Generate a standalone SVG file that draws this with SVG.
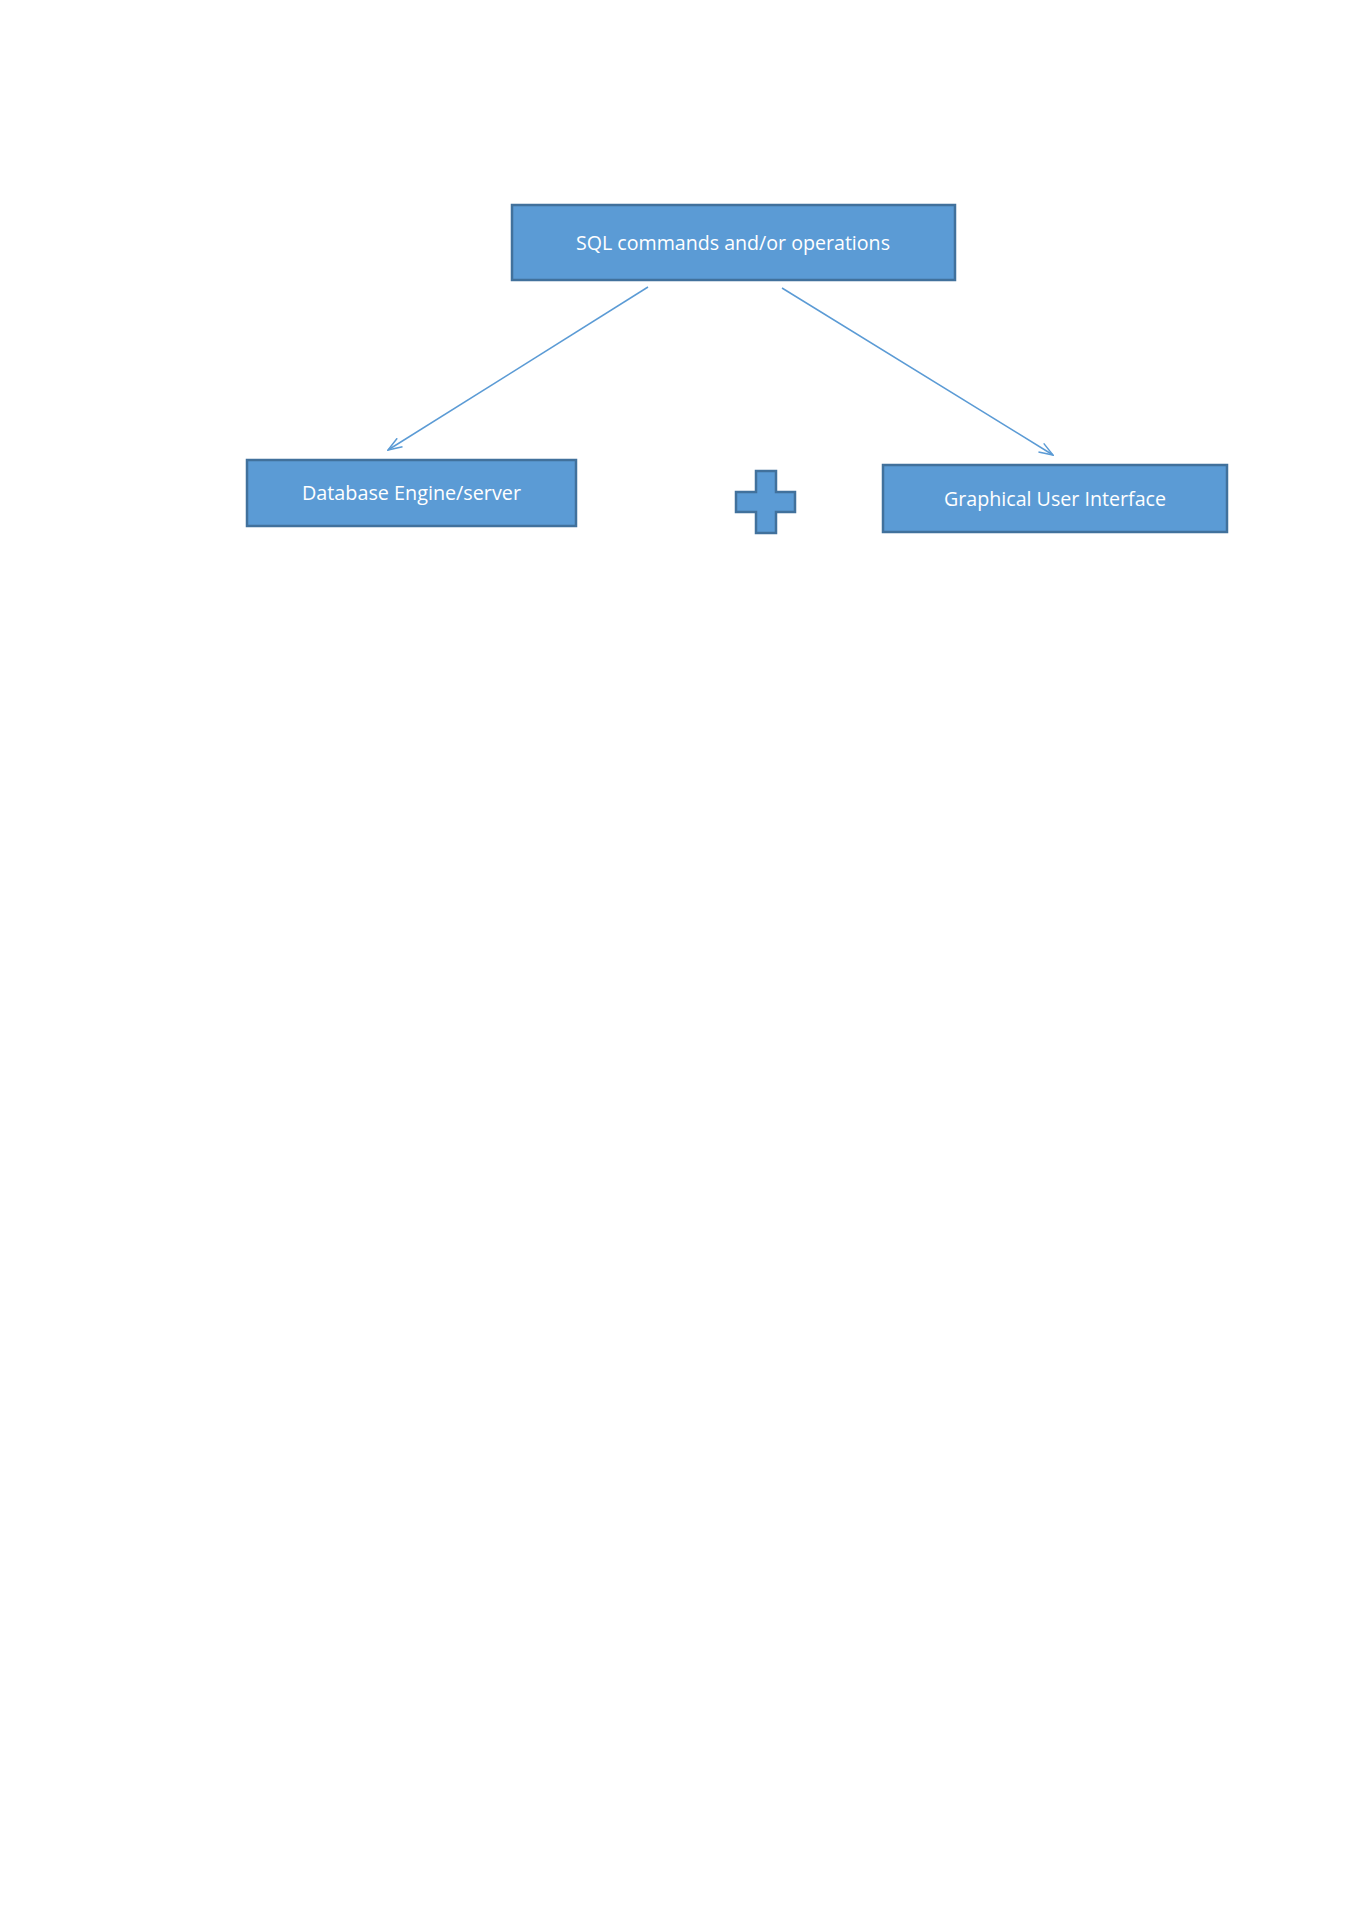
<svg xmlns="http://www.w3.org/2000/svg" width="1358" height="1920" viewBox="0 0 1358 1920">
<defs>
<style>
.box{fill:#5B9BD5;stroke:#41719C;stroke-width:2.5}
.lbl{font-family:"Open Sans","Noto Sans","Liberation Sans",sans-serif;font-size:20px;fill:#FFFFFF;text-anchor:middle}
.conn{stroke:#5B9BD5;stroke-width:1.5;fill:none}
</style>
<marker id="arr" viewBox="0 0 16 12" refX="15" refY="6" markerWidth="16" markerHeight="12" markerUnits="userSpaceOnUse" orient="auto">
<path d="M1,1 L15,6 L1,11" fill="none" stroke="#5B9BD5" stroke-width="1.5"/>
</marker>
</defs>
<rect width="1358" height="1920" fill="#FFFFFF"/>
<g id="connectors">
<line class="conn" x1="648" y1="287" x2="388" y2="450" marker-end="url(#arr)"/>
<line class="conn" x1="782" y1="288" x2="1053" y2="455" marker-end="url(#arr)"/>
</g>
<g id="node-sql">
<rect class="box" x="512" y="205" width="443" height="75"/>
<text class="lbl" x="733" y="250" textLength="314" lengthAdjust="spacingAndGlyphs">SQL commands and/or operations</text>
</g>
<g id="node-db">
<rect class="box" x="247" y="460" width="329" height="66"/>
<text class="lbl" x="411.5" y="500" textLength="219" lengthAdjust="spacingAndGlyphs">Database Engine/server</text>
</g>
<g id="node-plus">
<path class="box" d="M756,471 H776 V492 H795 V512 H776 V533 H756 V512 H736 V492 H756 Z"/>
</g>
<g id="node-gui">
<rect class="box" x="883" y="465" width="344" height="67"/>
<text class="lbl" x="1055" y="506" textLength="222" lengthAdjust="spacingAndGlyphs">Graphical User Interface</text>
</g>
</svg>
